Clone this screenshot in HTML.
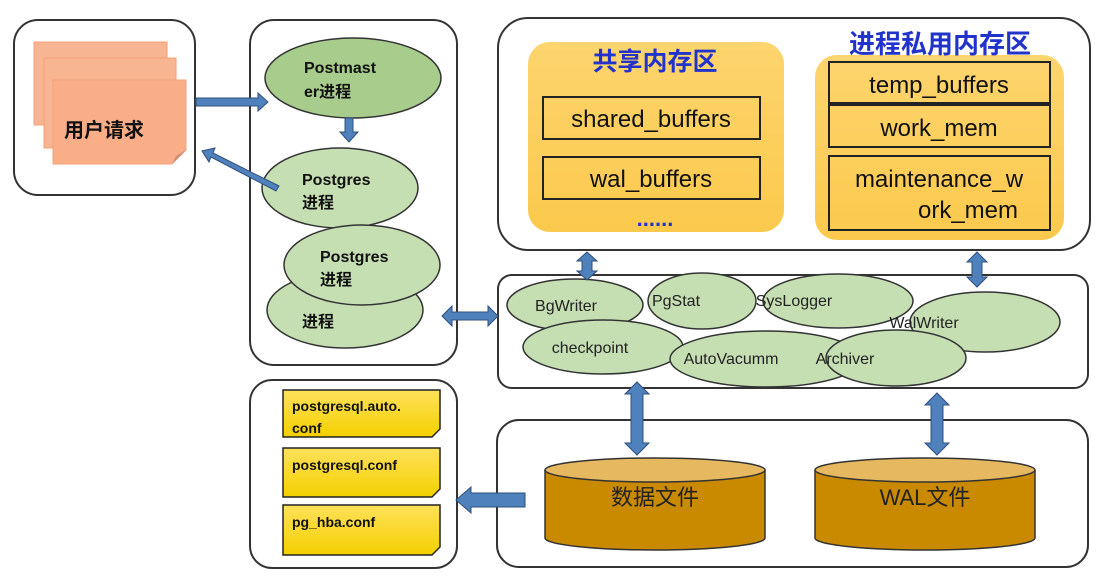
<!DOCTYPE html>
<html><head><meta charset="utf-8"><style>
html,body{margin:0;padding:0;background:#fff;}
svg{display:block;}
text{font-family:"Liberation Sans","Noto Sans CJK SC",sans-serif;}
</style></head><body>
<svg width="1117" height="579" viewBox="0 0 1117 579" xmlns="http://www.w3.org/2000/svg">
<defs>
<linearGradient id="yel" x1="0" y1="0" x2="0" y2="1"><stop offset="0" stop-color="#ffe15a"/><stop offset="1" stop-color="#f3d000"/></linearGradient>
<linearGradient id="mem" x1="0" y1="0" x2="0" y2="1"><stop offset="0" stop-color="#fdd56e"/><stop offset="1" stop-color="#fbc94c"/></linearGradient>
</defs>
<g fill="#fff" stroke="#333" stroke-width="2">
<rect x="14" y="20" width="181" height="175" rx="24"/>
<rect x="250" y="20" width="207" height="345" rx="24"/>
<rect x="498" y="18" width="592" height="232" rx="30"/>
<rect x="498" y="275" width="590" height="113" rx="14"/>
<rect x="497" y="420" width="591" height="147" rx="22"/>
<rect x="250" y="380" width="207" height="188" rx="22"/>
</g>
<rect x="34" y="42" width="133" height="83" fill="#f8b592" stroke="#f2a27a"/>
<rect x="44" y="58" width="132" height="90" fill="#f8b592" stroke="#f2a27a"/>
<polygon points="53,80 186,80 186,150 172,164 53,164" fill="#f9ae88" stroke="#f2a27a"/>
<polygon points="186,150 176,156 172,164" fill="#c8907a"/>
<text x="64" y="137" font-size="20" font-weight="bold" fill="#111">用户请求</text>
<g stroke="#333" stroke-width="1.5">
<ellipse cx="353" cy="78" rx="88" ry="40" fill="#a8cc8c"/>
<ellipse cx="340" cy="188" rx="78" ry="40" fill="#c5dfb3"/>
<ellipse cx="345" cy="310" rx="78" ry="38" fill="#c5dfb3"/>
<ellipse cx="362" cy="265" rx="78" ry="40" fill="#c5dfb3"/>
</g>
<g font-size="16" font-weight="bold" fill="#111">
<text x="304" y="73">Postmast</text><text x="304" y="97">er进程</text>
<text x="302" y="185">Postgres</text><text x="302" y="208">进程</text>
<text x="302" y="327">进程</text>
<text x="320" y="262">Postgres</text><text x="320" y="285">进程</text>
</g>
<rect x="528" y="42" width="256" height="190" rx="22" fill="url(#mem)"/>
<rect x="815" y="55" width="249" height="185" rx="22" fill="url(#mem)"/>
<text x="655" y="70" font-size="25" font-weight="bold" fill="#2233cc" text-anchor="middle">共享内存区</text>
<text x="940" y="53" font-size="26" font-weight="bold" fill="#2233cc" text-anchor="middle">进程私用内存区</text>
<g fill="none" stroke="#222" stroke-width="2">
<rect x="543" y="97" width="217" height="42"/><rect x="543" y="157" width="217" height="42"/>
<rect x="829" y="62" width="221" height="41"/><rect x="829" y="105" width="221" height="42"/><rect x="829" y="156" width="221" height="74"/>
</g>
<g font-size="24" fill="#111" text-anchor="middle">
<text x="651" y="127">shared_buffers</text><text x="651" y="187">wal_buffers</text>
<text x="939" y="93">temp_buffers</text><text x="939" y="136">work_mem</text>
<text x="939" y="187">maintenance_w</text><text x="968" y="218">ork_mem</text>
</g>
<text x="655" y="226" font-size="22" font-weight="bold" fill="#2233cc" text-anchor="middle">......</text>
<g stroke="#333" stroke-width="1.5" fill="#c5dfb3">
<ellipse cx="575" cy="305" rx="68" ry="26"/>
<ellipse cx="702" cy="301" rx="54" ry="28"/>
<ellipse cx="838" cy="301" rx="75" ry="27"/>
<ellipse cx="985" cy="322" rx="75" ry="30"/>
<ellipse cx="603" cy="347" rx="80" ry="27"/>
<ellipse cx="766" cy="359" rx="96" ry="28"/>
<ellipse cx="896" cy="358" rx="70" ry="28"/>
</g>
<g font-size="16" fill="#222" text-anchor="middle">
<text x="566" y="311">BgWriter</text><text x="676" y="306">PgStat</text><text x="794" y="306">SysLogger</text>
<text x="924" y="328">WalWriter</text><text x="590" y="353">checkpoint</text><text x="731" y="364">AutoVacumm</text><text x="845" y="364">Archiver</text>
</g>
<g stroke="#333" stroke-width="1.5">
<path d="M545,470 V538 A110,12 0 0 0 765,538 V470" fill="#c98a00"/>
<ellipse cx="655" cy="470" rx="110" ry="12" fill="#e6b960"/>
<path d="M815,470 V538 A110,12 0 0 0 1035,538 V470" fill="#c98a00"/>
<ellipse cx="925" cy="470" rx="110" ry="12" fill="#e6b960"/>
</g>
<text x="655" y="505" font-size="22" fill="#222" text-anchor="middle">数据文件</text>
<text x="925" y="505" font-size="22" fill="#222" text-anchor="middle">WAL文件</text>
<g stroke="#222" stroke-width="1.5" fill="url(#yel)">
<polygon points="283,390 440,390 440,429 432,437 283,437"/>
<polygon points="283,448 440,448 440,489 432,497 283,497"/>
<polygon points="283,505 440,505 440,547 432,555 283,555"/>
</g>
<g font-size="14" font-weight="bold" fill="#111">
<text x="292" y="411">postgresql.auto.</text><text x="292" y="433">conf</text>
<text x="292" y="470">postgresql.conf</text>
<text x="292" y="527">pg_hba.conf</text>
</g>
<g fill="#4f81bd" stroke="#2f4f7a" stroke-width="1">
<polygon points="196,98 258,98 258,93 268,102 258,111 258,106 196,106"/>
<polygon points="345,118 353,118 353,132 358,132 349,142 340,132 345,132"/>
<polygon points="279,186 213,153 215,148 202,151 209,162 211,157 276,191"/>
<polygon points="442,316 452,306 452,312 488,312 488,306 498,316 488,326 488,320 452,320 452,326"/>
<polygon points="587,252 597,261 592,261 592,271 597,271 587,280 577,271 582,271 582,261 577,261"/>
<polygon points="977,252 987,262 982,262 982,277 987,277 977,287 967,277 972,277 972,262 967,262"/>
<polygon points="637,382 649,394 643,394 643,443 649,443 637,455 625,443 631,443 631,394 625,394"/>
<polygon points="937,393 949,405 943,405 943,443 949,443 937,455 925,443 931,443 931,405 925,405"/>
<polygon points="525,493 471,493 471,487 456,500 471,513 471,507 525,507"/>
</g>
</svg>
</body></html>
